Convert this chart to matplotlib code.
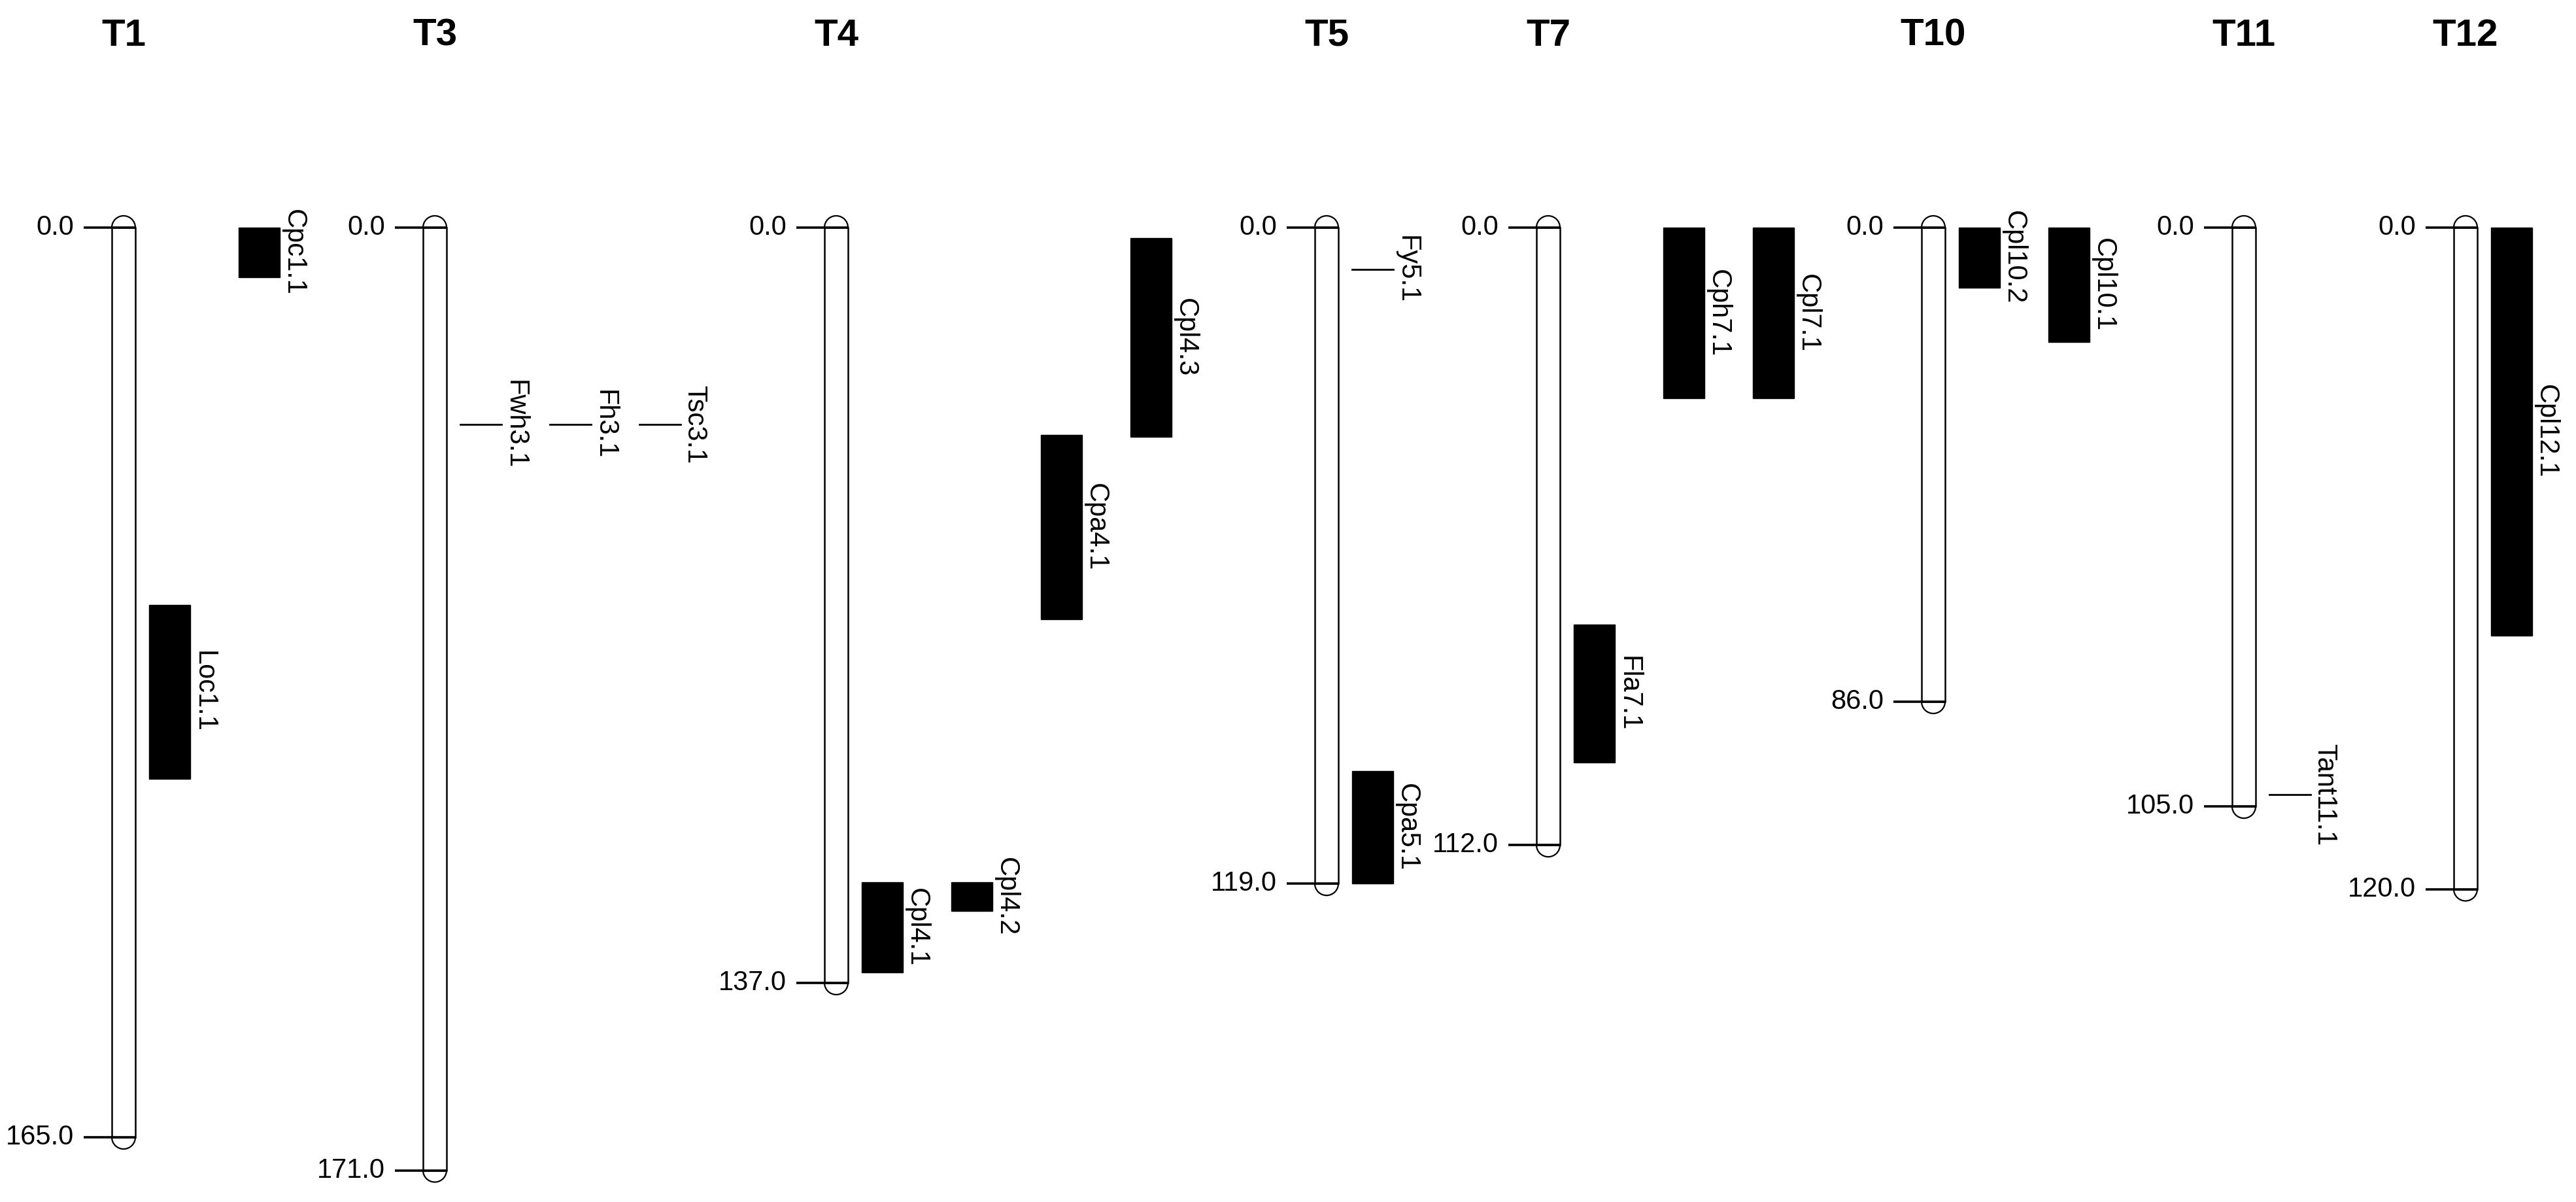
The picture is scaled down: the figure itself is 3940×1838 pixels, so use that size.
import matplotlib
matplotlib.use("Agg")
import matplotlib.pyplot as plt
from matplotlib.patches import Rectangle, Arc

plt.rcParams['font.family'] = ['Liberation Sans', 'DejaVu Sans']

# ── Linkage groups (cM) ───────────────────────────────────
chrom_names   = ['T1', 'T3', 'T4', 'T5', 'T7', 'T10', 'T11', 'T12']
chrom_lengths = [165.0, 171.0, 137.0, 119.0, 112.0, 86.0, 105.0, 120.0]

# ── QTL intervals ─────────────────────────────────────────
qtl_names = ['Cpc1.1', 'Loc1.1', 'Cpl4.3', 'Cpa4.1', 'Cpl4.1', 'Cpl4.2', 'Cpa5.1',
             'Cph7.1', 'Cpl7.1', 'Fla7.1', 'Cpl10.2', 'Cpl10.1', 'Cpl12.1']
qtl_chrom = ['T1', 'T1', 'T4', 'T4', 'T4', 'T4', 'T5',
             'T7', 'T7', 'T7', 'T10', 'T10', 'T12']
qtl_start = [0.0, 68.4, 1.9, 37.6, 118.7, 118.7, 98.6, 0.0, 0.0, 72.0, 0.0, 0.0, 0.0]
qtl_end   = [9.0, 100.0, 38.0, 71.0, 135.1, 124.0, 119.0, 31.0, 31.0, 97.0, 10.9, 20.7, 74.0]

# ── Single-point QTL (drawn as a line) ────────────────────
marker_names = ['Fwh3.1', 'Fh3.1', 'Tsc3.1', 'Fy5.1', 'Tant11.1']
marker_chrom = ['T3', 'T3', 'T3', 'T5', 'T11']
marker_pos   = [35.7, 35.7, 35.7, 7.6, 102.9]

# ── Layout (pixel units across, cM down) ──────────────────
W, H = 3941, 1838
px_per_cm = 8.43
top_px = 348
chrom_x = [189, 665, 1279, 2029, 2368, 2957, 3432, 3771]
chrom_w = 36
col_off, col_step, box_w = 39, 137, 63
qtl_col    = [1, 0, 3, 2, 0, 1, 0, 1, 2, 0, 0, 1, 0]
marker_col = [0, 1, 2, 0, 0]

fig = plt.figure(figsize=(W / 100, H / 100), dpi=100)
ax = fig.add_axes([0, 0, 1, 1])
ax.set_xlim(0, W)
ax.set_ylim((H - top_px) / px_per_cm, -top_px / px_per_cm)
ax.axis('off')

cx = dict(zip(chrom_names, chrom_x))
cap_h = 2 * (chrom_w / 2) / px_per_cm

for name, length in zip(chrom_names, chrom_lengths):
    x = cx[name]
    left = x - chrom_w / 2
    ax.add_patch(Rectangle((left, 0), chrom_w, length, fill=False, ec='black', lw=1.8))
    # y axis is inverted, so the upper cap is the 180-360 half
    ax.add_patch(Arc((x, 0), chrom_w, cap_h, theta1=180, theta2=360, ec='black', lw=1.6))
    ax.add_patch(Arc((x, length), chrom_w, cap_h, theta1=0, theta2=180, ec='black', lw=1.6))
    for pos in (0, length):
        ax.plot([x - 61, x + chrom_w / 2], [pos, pos], color='black', lw=2.6,
                solid_capstyle='butt')
        ax.text(x - 76, pos, f'{pos:.1f}', ha='right', va='center', fontsize=30)
    ax.text(x, -34.8, name, ha='center', va='center', fontsize=42, fontweight='bold')

for name, ch, s, e, col in zip(qtl_names, qtl_chrom, qtl_start, qtl_end, qtl_col):
    bx = cx[ch] + col_off + col * col_step
    ax.add_patch(Rectangle((bx, s), box_w, e - s, fc='black', ec='black', lw=1))
    ax.text(bx + box_w + 1, (s + e) / 2, name, rotation=270, ha='left', va='center',
            fontsize=30)

for name, ch, pos, col in zip(marker_names, marker_chrom, marker_pos, marker_col):
    bx = cx[ch] + col_off + col * col_step
    ax.plot([bx, bx + box_w], [pos, pos], color='black', lw=2.0)
    ax.text(bx + box_w + 1, pos, name, rotation=270, ha='left', va='center',
            fontsize=30)

fig.savefig('out.png', dpi=100, facecolor='white')
